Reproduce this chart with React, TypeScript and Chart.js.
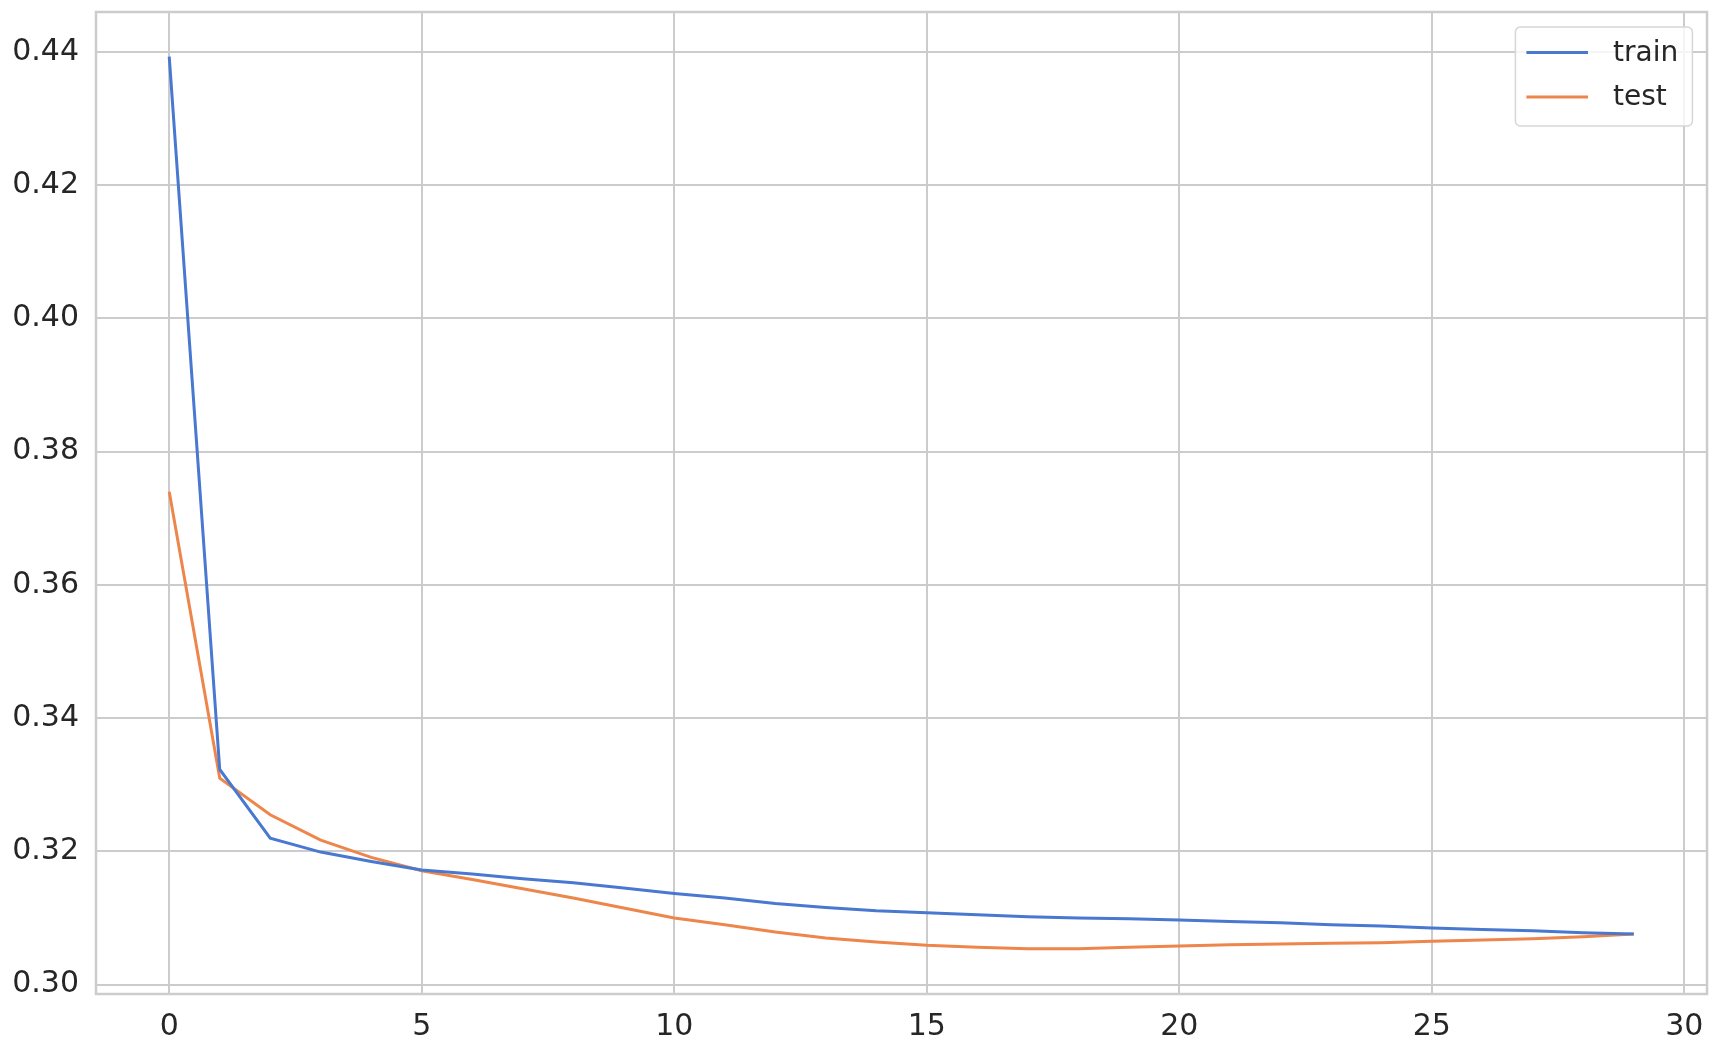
import { useEffect, useRef } from "react";
import { Chart, registerables } from "chart.js";

Chart.register(...registerables);

// loss per epoch
const epochs = [0, 1, 2, 3, 4, 5, 6, 7, 8, 9, 10, 11, 12, 13, 14, 15, 16, 17, 18, 19, 20, 21, 22, 23, 24, 25, 26, 27, 28, 29];
const trainLoss = [
  0.4393, 0.3323, 0.322, 0.3199, 0.3185, 0.3172, 0.3166, 0.3159, 0.3153, 0.3145,
  0.3137, 0.313, 0.3122, 0.3116, 0.3111, 0.3108, 0.3105, 0.3102, 0.31, 0.3099,
  0.3097, 0.3095, 0.3093, 0.309, 0.3088, 0.3085, 0.3083, 0.3081, 0.3078, 0.3076,
];
const testLoss = [
  0.374, 0.331, 0.3255, 0.3217, 0.3191, 0.3171, 0.3158, 0.3144, 0.313, 0.3115,
  0.31, 0.309, 0.3079, 0.307, 0.3064, 0.3059, 0.3056, 0.3054, 0.3054, 0.3056,
  0.3058, 0.306, 0.3061, 0.3062, 0.3063, 0.3065, 0.3067, 0.3069, 0.3072, 0.3076,
];
const seriesLabels = ["train", "test"];
const xTicks = [0, 5, 10, 15, 20, 25, 30];
const yTicks = [0.3, 0.32, 0.34, 0.36, 0.38, 0.4, 0.42, 0.44];

const BLUE = "#4878d0";
const ORANGE = "#ee854a";
const GRID = "#cccccc";
const TEXT = "#262626";
const FONT = "'DejaVu Sans', sans-serif";

// spines on all four sides, like seaborn whitegrid
const framePlugin = {
  id: "frame",
  afterDatasetsDraw(chart: Chart) {
    const { ctx, chartArea } = chart;
    ctx.save();
    ctx.strokeStyle = GRID;
    ctx.lineWidth = 2.5;
    ctx.strokeRect(chartArea.left, chartArea.top, chartArea.right - chartArea.left, chartArea.bottom - chartArea.top);
    ctx.restore();
  },
};

// matplotlib style legend inside the upper right corner
const boxLegendPlugin = {
  id: "boxLegend",
  afterDraw(chart: Chart) {
    const { ctx, chartArea } = chart;
    const w = 177;
    const h = 99;
    const x = chartArea.right - 14.6 - w;
    const y = chartArea.top + 15;
    ctx.save();
    ctx.beginPath();
    ctx.roundRect(x, y, w, h, 5);
    ctx.fillStyle = "rgba(255,255,255,0.8)";
    ctx.fill();
    ctx.strokeStyle = "#d6d6d6";
    ctx.lineWidth = 1.5;
    ctx.stroke();
    ctx.font = `28px ${FONT}`;
    ctx.textBaseline = "middle";
    ctx.fillStyle = TEXT;
    chart.data.datasets.forEach((ds, i) => {
      const ly = y + 25.5 + i * 44.6;
      ctx.beginPath();
      ctx.moveTo(x + 11, ly);
      ctx.lineTo(x + 72.6, ly);
      ctx.strokeStyle = ds.borderColor as string;
      ctx.lineWidth = 3;
      ctx.stroke();
      ctx.fillText(ds.label ?? "", x + 97.6, ly + 1);
    });
    ctx.restore();
  },
};

function LossChart() {
  const canvasRef = useRef<HTMLCanvasElement>(null);

  useEffect(() => {
    const ctx = canvasRef.current?.getContext("2d");
    if (!ctx) return;

    const chart = new Chart(ctx, {
      type: "line",
      data: {
        datasets: [
          {
            label: seriesLabels[0],
            data: epochs.map((e, i) => ({ x: e, y: trainLoss[i] })),
            borderColor: BLUE,
            borderWidth: 3,
            pointRadius: 0,
            tension: 0,
          },
          {
            label: seriesLabels[1],
            data: epochs.map((e, i) => ({ x: e, y: testLoss[i] })),
            borderColor: ORANGE,
            borderWidth: 3,
            pointRadius: 0,
            tension: 0,
          },
        ],
      },
      options: {
        animation: false,
        responsive: true,
        maintainAspectRatio: false,
        devicePixelRatio: 1,
        layout: { padding: { top: 12, right: 13, bottom: 0, left: 0 } },
        plugins: {
          legend: { display: false },
          tooltip: { enabled: false },
        },
        scales: {
          x: {
            type: "linear",
            min: -1.45,
            max: 30.45,
            afterBuildTicks: (scale) => {
              scale.ticks = xTicks.map((v) => ({ value: v }));
            },
            afterFit: (scale) => {
              scale.height = 60;
              scale.paddingLeft = 0;
              scale.paddingRight = 0;
            },
            grid: { color: GRID, lineWidth: 2, drawTicks: false },
            border: { display: false },
            ticks: {
              color: TEXT,
              padding: 15,
              font: { family: FONT, size: 30 },
              callback: (v) => String(v),
            },
          },
          y: {
            type: "linear",
            min: 0.2986,
            max: 0.446,
            afterBuildTicks: (scale) => {
              scale.ticks = yTicks.map((v) => ({ value: v }));
            },
            afterFit: (scale) => {
              scale.width = 96;
              scale.paddingTop = 0;
              scale.paddingBottom = 0;
            },
            grid: { color: GRID, lineWidth: 2, drawTicks: false },
            border: { display: false },
            ticks: {
              color: TEXT,
              padding: 17,
              font: { family: FONT, size: 30 },
              callback: (v) => Number(v).toFixed(2),
            },
          },
        },
      },
      plugins: [framePlugin, boxLegendPlugin],
    });

    return () => {
      chart.destroy();
    };
  }, []);

  return <canvas ref={canvasRef} />;
}

export default function App() {
  return (
    <div style={{ position: "fixed", left: 0, top: 0, width: 1720, height: 1054, background: "#fff" }}>
      <LossChart />
    </div>
  );
}
